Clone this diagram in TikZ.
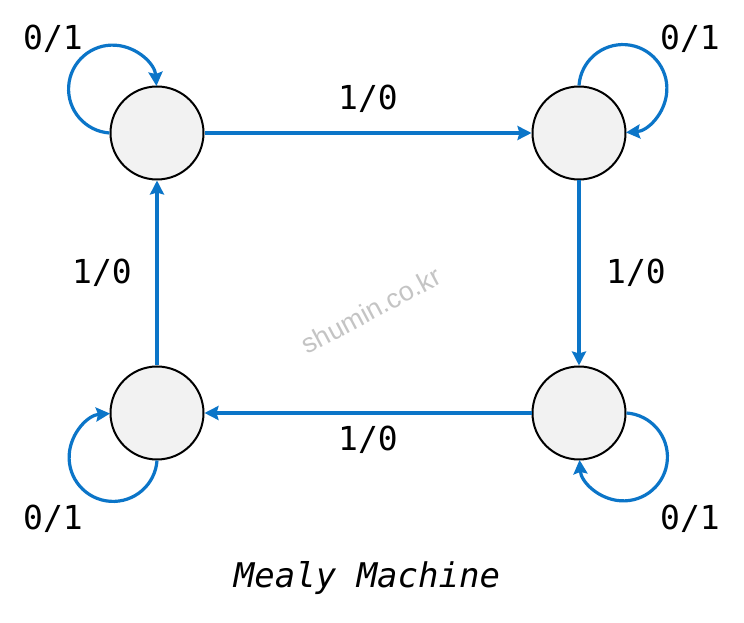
\documentclass[tikz,border=0pt]{standalone}
\usepackage{fontspec}
\newfontfamily\monofont{DejaVu Sans Mono}
\newfontfamily\wmfont{Liberation Sans}
\usetikzlibrary{arrows.meta}
\definecolor{edgeblue}{HTML}{0B75C8}
\definecolor{statefill}{HTML}{F2F2F2}
\definecolor{wmgray}{HTML}{C4C4C4}
\tikzset{
  state/.style={circle, draw=black, line width=2pt, fill=statefill, minimum size=93pt, inner sep=0pt},
  trans/.style={draw=edgeblue, line width=3.2pt, -{Stealth[length=14pt, width=14pt, inset=2pt]}},
  lbl/.style={font=\monofont\fontsize{33}{38}\selectfont, inner sep=0pt},
  ttl/.style={font=\monofont\itshape\fontsize{34}{40}\selectfont, inner sep=0pt},
}
\begin{document}
\begin{tikzpicture}[x=1pt, y=1pt]
\useasboundingbox[fill=white] (0,0) rectangle (744,623);
% watermark
\node[font=\wmfont\fontsize{27}{30}\selectfont, text=wmgray, rotate=28] (wm) at (371,313) {shumin.co.kr};
% states
\node[state] (tl) at (157,490) {};
\node[state] (tr) at (579,490) {};
\node[state] (bl) at (157,210) {};
\node[state] (br) at (579,210) {};
% transitions
\draw[trans] (tl) -- node[lbl, yshift=34pt] (l1) {1/0} (tr);
\draw[trans] (tr) -- node[lbl, xshift=57pt] (l2) {1/0} (br);
\draw[trans] (br) -- node[lbl, yshift=-27pt] (l3) {1/0} (bl);
\draw[trans] (bl) -- node[lbl, xshift=-55pt] (l4) {1/0} (tl);
% self loops
\draw[trans] (tl.west) arc[start angle=-94, end angle=-356, radius=44];
\draw[trans] (tr.north) arc[start angle=176, end angle=-86, radius=44];
\draw[trans] (bl.south) arc[start angle=-4, end angle=-266, radius=44];
\draw[trans] (br.east) arc[start angle=86, end angle=-176, radius=44];
% loop labels
\node[lbl] (s1) at (53,584) {0/1};
\node[lbl] (s2) at (690,584) {0/1};
\node[lbl] (s3) at (53,104) {0/1};
\node[lbl] (s4) at (690,104) {0/1};
% title
\node[ttl] (title) at (367,45) {Mealy Machine};
\end{tikzpicture}
\end{document}
